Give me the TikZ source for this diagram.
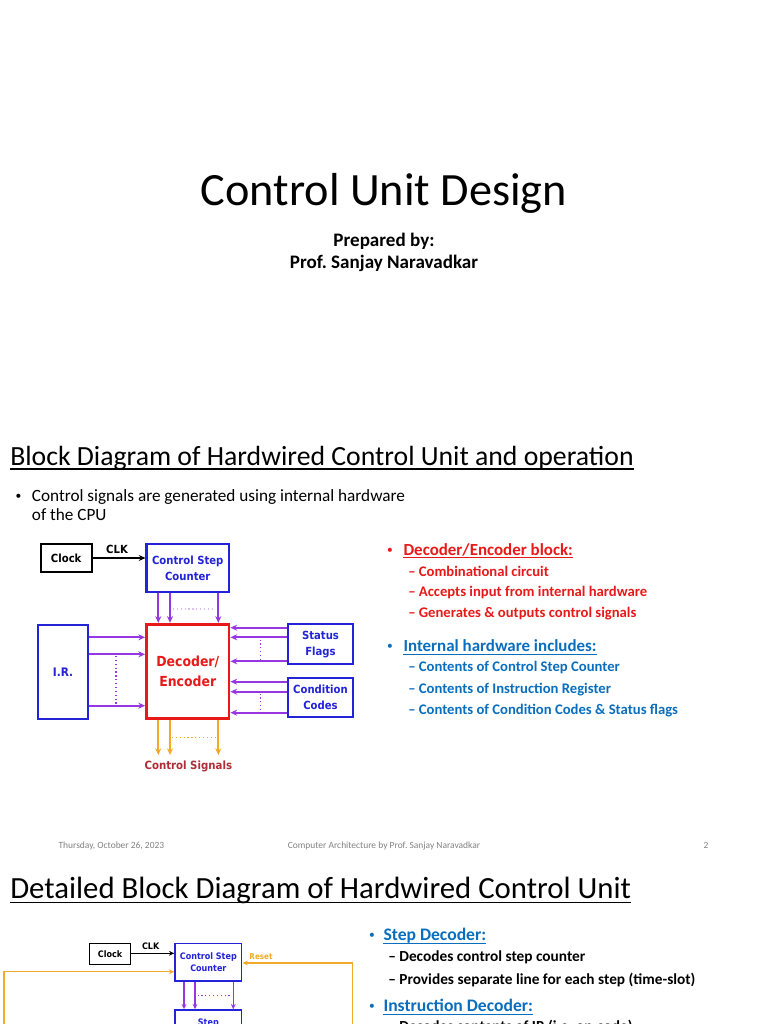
\documentclass[tikz,border=0pt]{standalone}
\usepackage{fontspec}
\setmainfont{Carlito}
\newfontfamily\dgfont[FakeStretch=0.9]{DejaVu Sans}
\usetikzlibrary{arrows.meta}
\frenchspacing
\definecolor{bxblue}{RGB}{35,35,215}
\definecolor{purp}{RGB}{150,55,225}
\definecolor{orng}{RGB}{242,170,40}
\definecolor{rd}{RGB}{232,25,25}
\definecolor{csig}{RGB}{175,45,55}
\definecolor{hblue}{RGB}{10,110,190}
\definecolor{ftgray}{RGB}{130,130,130}
\newcommand\pxu{0.75pt}
\tikzset{
  txt/.style={inner sep=0pt, anchor=base west},
  ctxt/.style={inner sep=0pt, anchor=base},
  bul/.style={inner sep=0pt, anchor=base, yshift=1.5pt, font=\fontsize{8.6}{9}\selectfont},
  bx/.style={draw, line width=1.6pt, inner sep=0pt, align=center,
    font=\dgfont\bfseries\fontsize{8.4}{12}\selectfont},
  bxs/.style={draw, line width=1.1pt, inner sep=0pt, align=center,
    font=\dgfont\bfseries\fontsize{6.7}{9.5}\selectfont},
  parr/.style={draw=purp, line width=1.3pt, -{Stealth[length=5pt,width=4.5pt]}},
  oarr/.style={draw=orng, line width=1.3pt, -{Stealth[length=5pt,width=4.5pt]}},
  parrs/.style={draw=purp, line width=1pt, -{Stealth[length=4pt,width=3.6pt]}},
  oarrs/.style={draw=orng, line width=1pt, -{Stealth[length=4pt,width=3.6pt]}},
  karr/.style={draw=black, line width=1.1pt, -{Stealth[length=5pt,width=4.5pt]}},
  karrs/.style={draw=black, line width=0.8pt, -{Stealth[length=4pt,width=3.6pt]}},
  pdot/.style={draw=purp, line width=0.9pt, dotted},
  odot/.style={draw=orng, line width=0.9pt, dotted},
  uline/.style={line width=1.1pt},
}
\begin{document}
\begin{tikzpicture}[x=0.75pt,y=-0.75pt]
\useasboundingbox (0,0) rectangle (768,1024);
\clip (0,0) rectangle (768,1024);
\fill[white] (0,0) rectangle (768,1024);

% ---------------- Slide 1 ----------------
\node[ctxt, font=\fontsize{34.7}{40}\selectfont] (t1) at (384,205) {Control Unit Design};
\node[ctxt, font=\bfseries\fontsize{14.3}{17}\selectfont] (prep) at (384,246) {Prepared by:};
\node[ctxt, font=\bfseries\fontsize{14.3}{17}\selectfont] (prof) at (384,268) {Prof. Sanjay Naravadkar};

% ---------------- Slide 2 ----------------
\node[txt, font=\fontsize{20.8}{25}\selectfont] (t2) at (10,465) {Block Diagram of Hardwired Control Unit and operation};
\draw[uline, line width=1.3pt] ([yshift=-3pt]t2.base west) -- ([yshift=-3pt]t2.base east);
\node[bul] (b0) at (18.5,501.7) {•};
\node[txt, font=\fontsize{12.9}{15}\selectfont] (l1) at (31.7,501.7) {Control signals are generated using internal hardware};
\node[txt, font=\fontsize{12.9}{15}\selectfont] (l2) at (31.7,520) {of the CPU};

% diagram 1
\node[bx, minimum width=51*\pxu, minimum height=27.4*\pxu] (clk) at (66.2,558) {Clock};
\node[bx, draw=bxblue, text=bxblue, minimum width=82.5*\pxu, minimum height=48*\pxu] (csc) at (187.75,568.3) {Control Step\\Counter};
\node[bx, draw=rd, text=rd, line width=2.2pt, minimum width=82.5*\pxu, minimum height=94*\pxu,
  font=\dgfont\bfseries\fontsize{10.4}{15}\selectfont] (dec) at (187.75,671.3) {Decoder/\\Encoder};
\node[bx, draw=bxblue, text=bxblue, minimum width=50.6*\pxu, minimum height=94*\pxu,
  font=\dgfont\bfseries\fontsize{8.8}{12}\selectfont] (ir) at (63,672) {I.R.};
\node[bx, draw=bxblue, text=bxblue, minimum width=65.6*\pxu, minimum height=40.3*\pxu] (sf) at (320.5,644.2) {Status\\Flags};
\node[bx, draw=bxblue, text=bxblue, minimum width=65.6*\pxu, minimum height=39*\pxu] (cc) at (320.5,697.2) {Condition\\Codes};

\draw[karr] (clk.east) -- (csc.west |- clk.east);
\node[inner sep=0pt, font=\dgfont\bfseries\fontsize{8.4}{10}\selectfont] (clklab) at (117,549.5) {CLK};

% CSC -> decoder
\draw[parr] (csc.south -| 158.3,0) -- (dec.north -| 158.3,0);
\draw[parr] (csc.south -| 170,0) -- (dec.north -| 170,0);
\draw[parr] (csc.south -| 218.3,0) -- (dec.north -| 218.3,0);
\draw[pdot, draw opacity=0.3] (173,609) -- (215,609);

% IR -> decoder
\draw[parr] (ir.east |- 0,637.3) -- (dec.west |- 0,637.3);
\draw[parr] (ir.east |- 0,654.3) -- (dec.west |- 0,654.3);
\draw[parr] (ir.east |- 0,705.7) -- (dec.west |- 0,705.7);
\draw[pdot] (116,656) -- (116,704);

% status flags -> decoder
\draw[parr] (sf.west |- 0,627.7) -- (dec.east |- 0,627.7);
\draw[parr] (sf.west |- 0,637.3) -- (dec.east |- 0,637.3);
\draw[parr] (sf.west |- 0,661.3) -- (dec.east |- 0,661.3);
\draw[pdot] (260.7,639.5) -- (260.7,659.5);

% condition codes -> decoder
\draw[parr] (cc.west |- 0,681.7) -- (dec.east |- 0,681.7);
\draw[parr] (cc.west |- 0,691.7) -- (dec.east |- 0,691.7);
\draw[parr] (cc.west |- 0,712.7) -- (dec.east |- 0,712.7);
\draw[pdot] (260.7,693.5) -- (260.7,711);

% control signals
\coordinate (cs1) at (158.3,755);
\coordinate (cs2) at (170,755);
\coordinate (cs3) at (218.3,755);
\draw[oarr] (dec.south -| cs1) -- (cs1);
\draw[oarr] (dec.south -| cs2) -- (cs2);
\draw[oarr] (dec.south -| cs3) -- (cs3);
\draw[odot] (172,737.3) -- (216.5,737.3);
\node[ctxt, text=csig, font=\dgfont\bfseries\fontsize{8.5}{10}\selectfont] (csl) at (188.3,769) {Control Signals};

% right text slide 2
\node[bul, text=rd] (rb1) at (390,555) {•};
\node[txt, text=rd, font=\bfseries\fontsize{12.7}{15}\selectfont] (rh1) at (403.3,555) {Decoder/Encoder block:};
\draw[uline, draw=rd] ([yshift=-2pt]rh1.base west) -- ([yshift=-2pt]rh1.base east);
\node[txt, text=rd, font=\bfseries\fontsize{11}{13}\selectfont] (r11) at (408,576) {– Combinational circuit};
\node[txt, text=rd, font=\bfseries\fontsize{11}{13}\selectfont] (r12) at (408,596.7) {– Accepts input from internal hardware};
\node[txt, text=rd, font=\bfseries\fontsize{11}{13}\selectfont] (r13) at (408,617.3) {– Generates \& outputs control signals};

\node[bul, text=hblue] (rb2) at (390,651.7) {•};
\node[txt, text=hblue, font=\bfseries\fontsize{12.7}{15}\selectfont] (rh2) at (403.3,651.7) {Internal hardware includes:};
\draw[uline, draw=hblue] ([yshift=-2pt]rh2.base west) -- ([yshift=-2pt]rh2.base east);
\node[txt, text=hblue, font=\bfseries\fontsize{11}{13}\selectfont] (r21) at (408,671.7) {– Contents of Control Step Counter};
\node[txt, text=hblue, font=\bfseries\fontsize{11}{13}\selectfont] (r22) at (408,693.3) {– Contents of Instruction Register};
\node[txt, text=hblue, font=\bfseries\fontsize{11}{13}\selectfont] (r23) at (408,714) {– Contents of Condition Codes \& Status flags};

% footer
\node[txt, text=ftgray, font=\fontsize{7.1}{9}\selectfont] (f1) at (58.3,848) {Thursday, October 26, 2023};
\node[ctxt, text=ftgray, font=\fontsize{7.1}{9}\selectfont] (f2) at (384,848) {Computer Architecture by Prof. Sanjay Naravadkar};
\node[ctxt, text=ftgray, font=\fontsize{7.1}{9}\selectfont] (f3) at (706,848) {2};

% ---------------- Slide 3 ----------------
\node[txt, font=\fontsize{23.1}{28}\selectfont] (t3) at (10,898) {Detailed Block Diagram of Hardwired Control Unit};
\draw[uline, line width=1.3pt] ([yshift=-3.3pt]t3.base west) -- ([yshift=-3.3pt]t3.base east);

\node[bxs, minimum width=41.4*\pxu, minimum height=21*\pxu] (clk2) at (110,953.8) {Clock};
\node[bxs, draw=bxblue, text=bxblue, minimum width=66.7*\pxu, minimum height=37.7*\pxu] (csc2) at (208.35,962.15) {Control Step\\Counter};
\node[bxs, draw=bxblue, text=bxblue, minimum width=66.7*\pxu, minimum height=38*\pxu] (sd2) at (208.35,1029) {Step\\Decoder};
\draw[karrs] (clk2.east |- 0,953.3) -- (csc2.west |- 0,953.3);
\node[inner sep=0pt, font=\dgfont\bfseries\fontsize{6.7}{8}\selectfont] (clk2lab) at (150.7,946.5) {CLK};

\draw[parrs] (csc2.south -| 184,0) -- (sd2.north -| 184,0);
\draw[parrs] (csc2.south -| 195,0) -- (sd2.north -| 195,0);
\draw[parrs] (csc2.south -| 233.3,0) -- (sd2.north -| 233.3,0);
\draw[pdot, line width=0.7pt] (197.5,995.7) -- (231,995.7);

\coordinate (rs0) at (352.3,1030);
\coordinate (ls0) at (4,1030);
\draw[oarrs] (rs0) |- (csc2.east |- 0,963);
\draw[oarrs] (ls0) |- (csc2.west |- 0,971.7);
\node[ctxt, text=orng, font=\dgfont\bfseries\fontsize{6}{8}\selectfont] (rst) at (261,959) {Reset};

% right text slide 3
\node[bul, text=hblue] (sb1) at (372,940.7) {•};
\node[txt, text=hblue, font=\bfseries\fontsize{13.2}{15}\selectfont] (sh1) at (383.3,940.7) {Step Decoder:};
\draw[uline, draw=hblue] ([yshift=-2pt]sh1.base west) -- ([yshift=-2pt]sh1.base east);
\node[txt, font=\bfseries\fontsize{11.5}{13}\selectfont] (s11) at (388,961.7) {– Decodes control step counter};
\node[txt, font=\bfseries\fontsize{11.5}{13}\selectfont] (s12) at (388,984) {– Provides separate line for each step (time-slot)};
\node[bul, text=hblue] (sb2) at (372,1011.7) {•};
\node[txt, text=hblue, font=\bfseries\fontsize{13.2}{15}\selectfont] (sh2) at (383.3,1011.7) {Instruction Decoder:};
\draw[uline, draw=hblue] ([yshift=-2pt]sh2.base west) -- ([yshift=-2pt]sh2.base east);
\node[txt, font=\bfseries\fontsize{11.5}{13}\selectfont] (s21) at (388,1031) {– Decodes contents of IR (i.e. op-code)};
\end{tikzpicture}
\end{document}
